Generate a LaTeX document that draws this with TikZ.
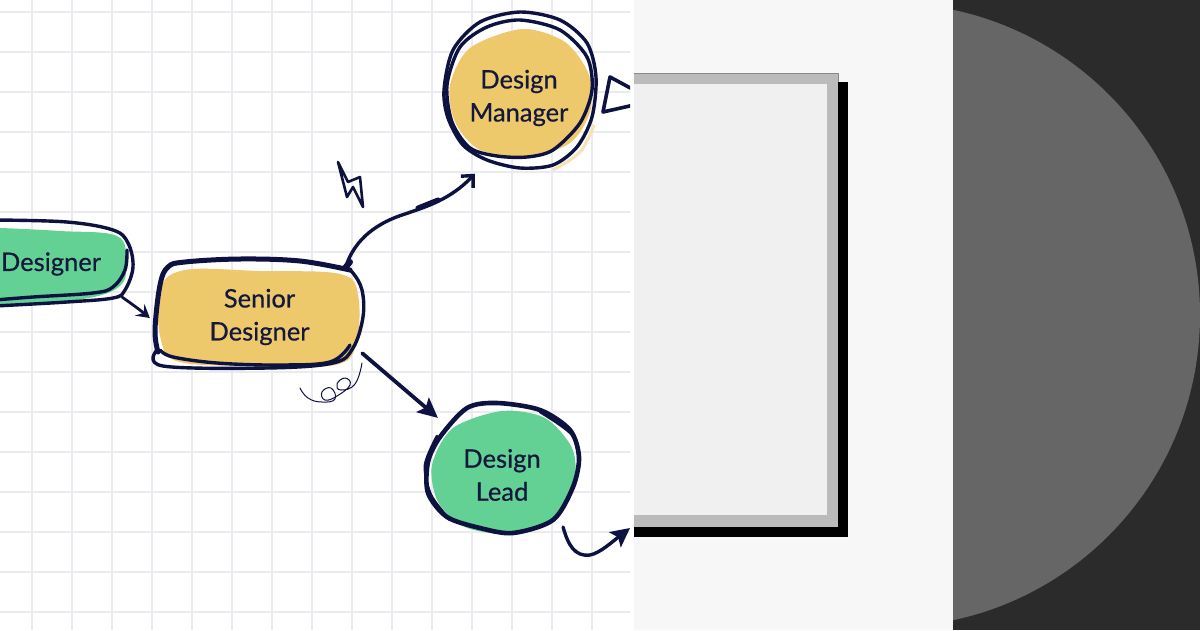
\documentclass[tikz,border=0pt]{standalone}
\usepackage{fontspec}
\setmainfont{Lato}[FakeBold=0.6]
\usetikzlibrary{arrows.meta}
\definecolor{navy}{HTML}{0E1240}
\definecolor{txt}{HTML}{14183C}
\definecolor{gold}{HTML}{EDC96C}
\definecolor{palegold}{HTML}{F5E3B5}
\definecolor{mint}{HTML}{63D094}
\definecolor{gridc}{HTML}{EBEBEF}
\definecolor{panel}{HTML}{F7F7F7}
\definecolor{darkbg}{HTML}{2B2B2B}
\definecolor{disc}{HTML}{666666}
\definecolor{rectgray}{HTML}{BBBBBB}
\definecolor{rectedge}{HTML}{8A8A8A}
\definecolor{rectin}{HTML}{F0F0F0}
\tikzset{
  lbl/.style={inner sep=0pt,align=center,text=txt,font=\fontsize{25.5}{33}\selectfont},
  sk/.style={draw=navy,line cap=round,line join=round},
  heavy/.style={sk,line width=4.6pt},
  medium/.style={sk,line width=3.4pt},
  light/.style={sk,line width=2.6pt},
  hair/.style={sk,line width=1pt},
  smoothp/.style={smooth,tension=0.6},
}
\begin{document}
\begin{tikzpicture}[x=1pt,y=-1pt]
\useasboundingbox (0,0) rectangle (1200,630);
\fill[white] (0,0) rectangle (1200,630);
\begin{scope}
\clip (0,0) rectangle (630,630);
% grid
\foreach \gx in {32,72,...,592} \draw[gridc,line width=1.8pt] (\gx,0) -- (\gx,630);
\foreach \gy in {12,52,...,612} \draw[gridc,line width=1.8pt] (0,\gy) -- (630,\gy);
% fills
\fill[mint] plot[smoothp] coordinates {(-30,228) (0,228) (60,231) (117,236) (126,262) (120,286) (83,299) (0,306) (-30,306)};
\fill[gold] plot[smooth cycle,tension=0.6] coordinates {(185,270) (260,271) (340,274) (358,295) (356,345) (335,365) (260,366) (180,362) (161,340) (160,290)};
\fill[gold] plot[smooth cycle] coordinates {(522,29) (565,42) (589,75) (590,112) (570,143) (527,157) (480,150) (455,122) (450,85) (470,48)};
\draw[palegold,line width=3pt] plot[smoothp] coordinates {(594,125) (580,152) (553,170)};
\fill[mint] plot[smooth cycle] coordinates {(502,411) (545,418) (572,448) (574,482) (552,520) (510,534) (465,527) (438,502) (432,465) (453,428)};
% outlines
\draw[medium] plot[smoothp] coordinates {(-5,220) (67,222) (113,230) (128,243) (133,267) (125,290) (113,298) (67,302) (-5,306)};
\draw[medium] plot[smoothp] coordinates {(127,250) (125,270) (113,287) (93,293) (33,297) (-5,300)};
\draw[heavy,line width=5pt] plot[smoothp] coordinates {(350,270) (300,261) (240,259) (185,262) (168,267) (160,285) (155,330) (158,352)};
\draw[medium] plot[smoothp] coordinates {(157,350) (163,366) (267,368) (333,363) (353,348) (363,317) (362,290) (353,273) (345,268)};
\draw[medium] plot[smoothp] coordinates {(160,350) (173,357) (217,363) (277,365) (330,362) (350,345)};
\draw[medium] plot[smooth cycle] coordinates {(444,90) (453,50) (480,22) (520,12) (560,20) (587,43) (596,77) (592,117) (577,147) (553,165) (520,168) (487,160) (463,145) (448,118)};
\draw[medium] plot[smooth cycle] coordinates {(447,85) (460,47) (487,27) (520,20) (560,30) (587,57) (592,90) (580,123) (553,150) (527,157) (497,156) (470,148) (452,122)};
\draw[heavy] plot[smooth cycle] coordinates {(467,408) (497,403) (540,410) (570,430) (579,457) (573,487) (553,520) (513,533) (480,528) (447,517) (428,493) (428,462) (440,437)};
\draw[light] plot[smooth] coordinates {(437,436) (425,465) (431,495) (450,520)};
\draw[light] plot[smooth] coordinates {(540,412) (573,436) (579,467)};
% labels
\node[lbl,minimum width=164pt,minimum height=82pt] (designer) at (51,264) {Designer};
\node[lbl,minimum width=205pt,minimum height=104pt] (senior) at (259.5,317) {Senior\\Designer};
\node[lbl,circle,minimum size=156pt] (manager) at (519,98) {Design\\Manager};
\node[lbl,circle,minimum size=130pt] (lead) at (502,475) {Design\\Lead};
\coordinate (leadout) at (630,528);
% connectors
\draw[medium,line width=2.8pt,-{Stealth[length=13pt,width=15pt,inset=5pt]}] ([shift={(-11,-8)}]designer.south east) .. controls (132,304) and (140,310) .. ([xshift=-7pt,yshift=-1pt]senior.west);
\draw[medium,-{Straight Barb[length=9pt,width=17pt]}] ([shift={(-17,4)}]senior.north east) .. controls (352,245) and (370,225) .. (405,214) .. controls (425,207) and (450,200) .. ([shift={(-5,8)}]manager.240);
\draw[line width=5pt,navy,line cap=round] (418,208) -- (438,200);
\draw[line width=6pt,navy,line cap=round] (345,268) -- (350,262);
\draw[medium,line width=3.8pt,-{Stealth[length=20pt,width=19pt,inset=4pt]}] ([shift={(0,-16)}]senior.south east) -- ([shift={(-18,-11)}]lead.135);
\draw[medium,-{Stealth[length=19pt,width=19pt,inset=4pt]}] ([shift={(15,6)}]lead.-45) .. controls (568,545) and (575,557) .. (590,555) .. controls (600,553) and (612,542) .. (leadout);
% triangle fragment
\draw[medium,line width=3.6pt] (634,90) -- (610,77) -- (603,112) -- (634,105);
% lightning
\draw[medium,line width=2.6pt] (338,162) -- (348,182) -- (360,177) -- (363,207) -- (353,187) -- (347,197) -- cycle;
% curl
\draw[hair] plot[smooth,tension=0.8] coordinates {(300,388) (308,398) (322,402) (335,399) (331,388) (322,392) (325,400) (337,396) (350,385) (345,378) (337,384) (341,390) (355,384) (362,363)};
\end{scope}
% right panels
\fill[panel] (634,0) rectangle (953,630);
\fill[black] (634,82) rectangle (848,537);
\fill[rectgray] (634,73) rectangle (838,527);
\draw[rectedge,line width=1pt] (634,73.5) -- (838,73.5) -- (838,82);
\fill[rectin] (634,84) rectangle (827,515);
\fill[darkbg] (953,0) rectangle (1200,630);
\begin{scope}
\clip (953,0) rectangle (1200,630);
\fill[disc] (888,315) circle[radius=312];
\end{scope}
\end{tikzpicture}
\end{document}
